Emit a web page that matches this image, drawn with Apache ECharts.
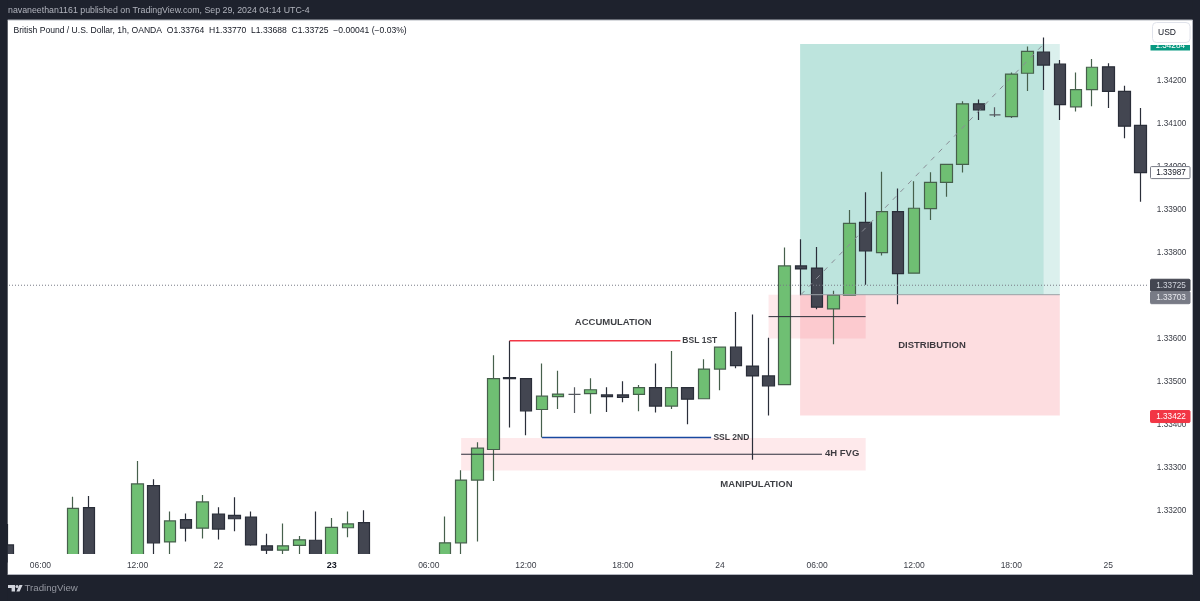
<!DOCTYPE html>
<html>
<head>
<meta charset="utf-8">
<title>GBPUSD 1h</title>
<style>
html, body { margin: 0; padding: 0; background: #1e222d; }
#chart { width: 1200px; height: 601px; }
</style>
<script src="https://cdn.jsdelivr.net/npm/echarts@6/dist/echarts.min.js"></script>
</head>
<body>
<div id="chart"></div>
<script>
/* candles, one entry per hour, null = bar sits wholly below the visible range */
var opens = [
    1.33121, null, null, null, 1.33060, 1.33208, null, null, 1.33080, 1.33259,
    1.33128, 1.33180, 1.33160, 1.33193, 1.33190, 1.33186, 1.33119, 1.33109, 1.33120, 1.33132,
    1.33085, 1.33161, 1.33173, null, null, null, null, 1.33060, 1.33126, 1.33272,
    1.33343, 1.33510, 1.33508, 1.33436, 1.33466, 1.33471, 1.33473, 1.33470, 1.33470, 1.33471,
    1.33487, 1.33444, 1.33487, 1.33461, 1.33530, 1.33581, 1.33537, 1.33514, 1.33494, 1.33770,
    1.33765, 1.33670, 1.33702, 1.33871, 1.33801, 1.33896, 1.33753, 1.33903, 1.33964, 1.34006,
    1.34147, 1.34121, 1.34117, 1.34218, 1.34267, 1.34239, 1.34140, 1.34180, 1.34233, 1.34176,
    1.34097
];
var closes = [
    1.33090, null, null, null, 1.33206, 1.33070, null, null, 1.33263, 1.33126,
    1.33177, 1.33160, 1.33221, 1.33158, 1.33182, 1.33121, 1.33109, 1.33119, 1.33133, 1.33090,
    1.33162, 1.33170, 1.33085, null, null, null, null, 1.33126, 1.33272, 1.33346,
    1.33508, 1.33508, 1.33433, 1.33467, 1.33472, 1.33471, 1.33482, 1.33466, 1.33464, 1.33487,
    1.33444, 1.33487, 1.33460, 1.33530, 1.33581, 1.33538, 1.33514, 1.33491, 1.33770, 1.33763,
    1.33674, 1.33702, 1.33869, 1.33805, 1.33896, 1.33752, 1.33904, 1.33964, 1.34006, 1.34147,
    1.34133, 1.34121, 1.34216, 1.34269, 1.34237, 1.34145, 1.34180, 1.34232, 1.34176, 1.34095,
    1.33987
];
var highs = [
    1.33170, null, null, null, 1.33233, 1.33235, null, null, 1.33316, 1.33274,
    1.33199, 1.33194, 1.33237, 1.33209, 1.33232, 1.33199, 1.33147, 1.33171, 1.33142, 1.33199,
    1.33184, 1.33199, 1.33202, null, null, null, null, 1.33187, 1.33295, 1.33360,
    1.33562, 1.33596, 1.33508, 1.33543, 1.33526, 1.33488, 1.33509, 1.33488, 1.33502, 1.33493,
    1.33543, 1.33572, 1.33487, 1.33553, 1.33581, 1.33663, 1.33657, 1.33603, 1.33813, 1.33832,
    1.33814, 1.33712, 1.33900, 1.33941, 1.33989, 1.33950, 1.33967, 1.33988, 1.34006, 1.34153,
    1.34157, 1.34139, 1.34220, 1.34280, 1.34301, 1.34249, 1.34220, 1.34251, 1.34241, 1.34189,
    1.34137
];
var lows = [
    1.33080, null, null, null, 1.33050, 1.33060, null, null, 1.33070, 1.33090,
    1.33095, 1.33129, 1.33136, 1.33134, 1.33153, 1.33119, 1.33095, 1.33095, 1.33095, 1.33080,
    1.33075, 1.33139, 1.33075, null, null, null, null, 1.33050, 1.33090, 1.33129,
    1.33270, 1.33394, 1.33376, 1.33371, 1.33437, 1.33428, 1.33426, 1.33430, 1.33453, 1.33432,
    1.33429, 1.33437, 1.33402, 1.33461, 1.33481, 1.33532, 1.33319, 1.33422, 1.33494, 1.33702,
    1.33669, 1.33588, 1.33702, 1.33726, 1.33794, 1.33681, 1.33753, 1.33877, 1.33931, 1.33987,
    1.34109, 1.34116, 1.34114, 1.34177, 1.34179, 1.34109, 1.34129, 1.34141, 1.34137, 1.34067,
    1.33919
];

var timeTickBars = [2, 8, 13, 20, 26, 32, 38, 44, 50, 56, 62, 68];
var timeTickLabels = ['06:00', '12:00', '22', '23', '06:00', '12:00', '18:00', '24', '06:00', '12:00', '18:00', '25'];

/* drawing tools: [bar from, bar to, price high, price low] */
var targetBox = [48.95, 64, 1.34286, 1.33703];
var targetBoxTail = [64, 65, 1.34286, 1.33703];
var stopBox = [48.95, 65, 1.33703, 1.33422];
var fvgZone = [28, 53, 1.33370, 1.33294];
var orderBlock = [47, 53, 1.33703, 1.33601];

/* lines: [bar from, price from, bar to, price to] */
var bslLine = [31, 1.33596, 41.55, 1.33596];
var sslLine = [33, 1.33371, 43.45, 1.33371];
var fvgLine = [28, 1.33332, 50.3, 1.33332];
var blockLine = [47, 1.33652, 53, 1.33652];
var entryLine = [49, 1.33703, 65, 1.33703];
var tradeLine = [49, 1.33703, 64, 1.34286];
var lastPriceLine = [-0.5, 1.33725, 70.5, 1.33725];

var noteTexts = ['ACCUMULATION', 'BSL 1ST', 'SSL 2ND', '4H FVG', 'MANIPULATION', 'DISTRIBUTION'];
var noteBars = [37.4, 42.75, 44.7, 51.55, 46.25, 57.1];
var notePrices = [1.33639, 1.33596, 1.33370, 1.33333, 1.33263, 1.33586];

var tagPrices = [1.33987, 1.33725, 1.33703, 1.33422];
var tagTexts = ['1.33987', '1.33725', '1.33703', '1.33422'];

var headerText = 'navaneethan1161 published on TradingView.com, Sep 29, 2024 04:14 UTC-4';
var titleText = 'British Pound / U.S. Dollar, 1h, OANDA  O1.33764  H1.33770  L1.33688  C1.33725  \u22120.00041 (\u22120.03%)';

var fontName = '"Liberation Sans", Arial, sans-serif';
var frameColor = '#1e222d';
var barCount = opens.length;
var i;

var categories = [];
var candleData = [];
for (i = 0; i < barCount; i++) {
    categories.push('');
    if (opens[i] === null) {
        candleData.push(['-', '-', '-', '-']);
    } else {
        candleData.push([opens[i], closes[i], lows[i], highs[i]]);
    }
}
for (i = 0; i < timeTickBars.length; i++) {
    categories[timeTickBars[i]] = timeTickLabels[i];
}

function zone(box, color) {
    return [
        { coord: [box[0], box[2]], itemStyle: { color: color, borderWidth: 0 } },
        { coord: [box[1], box[3]] }
    ];
}

function segment(line, color, width, type) {
    return {
        type: 'line',
        xAxisIndex: 1,
        data: [[line[0], line[1]], [line[2], line[3]]],
        showSymbol: false,
        silent: true,
        clip: true,
        z: 5,
        animation: false,
        lineStyle: { color: color, width: width, type: type }
    };
}

var noteData = [];
for (i = 0; i < noteTexts.length; i++) {
    noteData.push({
        value: [noteBars[i], notePrices[i]],
        name: noteTexts[i],
        /* the two level tags are set a bit smaller than the section titles */
        label: { fontSize: (noteTexts[i] === 'BSL 1ST' || noteTexts[i] === 'SSL 2ND') ? 8.5 : 9.5 }
    });
}

var chart = echarts.init(document.getElementById('chart'));

var option = {
    animation: false,
    backgroundColor: '#ffffff',
    textStyle: { fontFamily: fontName },
    grid: { left: -1.1, top: 21, width: 1149.9, height: 533, containLabel: false },
    xAxis: [{
        type: 'category',
        data: categories,
        boundaryGap: true,
        z: 10,
        axisLine: { show: false },
        axisTick: { show: false },
        splitLine: { show: false },
        axisLabel: {
            interval: 0,
            margin: 7,
            fontSize: 8.5,
            color: '#3a3d46',
            hideOverlap: false,
            formatter: function (value) {
                return value === '23' ? '{bold|23}' : value;
            },
            rich: { bold: { fontWeight: 'bold', fontSize: 9, color: '#131722' } }
        }
    }, {
        type: 'value',
        show: false,
        min: -0.5,
        max: 70.5,
        splitLine: { show: false }
    }],
    yAxis: {
        type: 'value',
        position: 'right',
        min: 1.331,
        max: 1.343395,
        interval: 0.001,
        axisLine: { show: false },
        axisTick: { show: false },
        splitLine: { show: false },
        axisLabel: {
            margin: 8,
            fontSize: 8.2,
            color: '#3a3d46',
            showMinLabel: false,
            showMaxLabel: false,
            formatter: function (value) { return value.toFixed(5); }
        }
    },
    series: [{
        type: 'line',
        xAxisIndex: 1,
        data: [],
        silent: true,
        z: 1,
        markArea: {
            silent: true,
            data: [
                zone(targetBox, 'rgba(8,153,129,0.267)'),
                zone(targetBoxTail, 'rgba(8,153,129,0.146)'),
                zone(stopBox, 'rgba(242,54,69,0.17)'),
                zone(fvgZone, 'rgba(242,54,69,0.11)'),
                zone(orderBlock, 'rgba(242,54,69,0.11)')
            ]
        }
    }, {
        type: 'candlestick',
        data: candleData,
        barWidth: 12,
        z: 2,
        itemStyle: {
            color: '#6fbf73',
            color0: '#434651',
            borderColor: '#46604c',
            borderColor0: '#2a2e39',
            borderColorDoji: '#55585f',
            borderWidth: 1.2
        }
    },
    segment(lastPriceLine, '#787b86', 1, [1, 2]),
    segment(tradeLine, '#8a8d96', 1, [5, 6]),
    segment(entryLine, '#9aa0a6', 1, 'solid'),
    segment(bslLine, '#f23645', 1.5, 'solid'),
    segment(sslLine, '#1848a0', 1.5, 'solid'),
    segment(fvgLine, '#2a2e39', 1, 'solid'),
    segment(blockLine, '#2a2e39', 1, 'solid'),
    {
        type: 'scatter',
        xAxisIndex: 1,
        data: noteData,
        symbolSize: 1,
        silent: true,
        z: 6,
        itemStyle: { color: 'transparent' },
        label: {
            show: true,
            position: 'inside',
            formatter: '{b}',
            fontFamily: fontName,
            fontSize: 9.5,
            fontWeight: 'bold',
            color: '#0b0e14'
        }
    }]
};
chart.setOption(option);

/* window frame, header, footer and price tags go on top of the plot */
function rect(x, y, w, h, fill, z, r) {
    return {
        type: 'rect',
        silent: true,
        z: z,
        shape: { x: x, y: y, width: w, height: h, r: r || 0 },
        style: { fill: fill }
    };
}

function label(x, y, text, size, color, z, align) {
    return {
        type: 'text',
        silent: true,
        z: z,
        x: x,
        y: y,
        style: {
            text: text,
            fontFamily: fontName,
            fontSize: size,
            fill: color,
            align: align || 'left',
            verticalAlign: 'middle'
        }
    };
}

var elements = [
    /* candles run past the bottom of the range, the time scale strip hides them */
    rect(7.7, 554, 1184.8, 20.5, '#ffffff', 3),
    rect(0, 0, 1200, 20, frameColor, 50),
    rect(0, 574.5, 1200, 26.5, frameColor, 50),
    rect(0, 0, 7.7, 601, frameColor, 50),
    rect(1192.5, 0, 7.5, 601, frameColor, 50),
    rect(7.7, 19.5, 1184.8, 1, '#b2b5be', 51),
    rect(7.7, 574, 1184.8, 1, '#b2b5be', 51),
    rect(1192, 20, 1, 555, '#b2b5be', 51),
    label(8, 11, headerText, 8.8, '#b2b5be', 52),
    label(13.5, 30.5, titleText, 8.57, '#131722', 52),
    label(24.5, 588, 'TradingView', 9.7, '#9598a1', 52)
];

/* logo */
elements.push({
    type: 'polygon', silent: true, z: 52,
    shape: { points: [[8, 585], [15, 585], [15, 591.6], [11.6, 591.6], [11.6, 588], [8, 588]] },
    style: { fill: '#d1d4dc' }
});
elements.push({
    type: 'circle', silent: true, z: 52,
    shape: { cx: 17, cy: 586.5, r: 1.5 },
    style: { fill: '#d1d4dc' }
});
elements.push({
    type: 'polygon', silent: true, z: 52,
    shape: { points: [[19.4, 585], [22.6, 585], [19.6, 591.6], [16.4, 591.6]] },
    style: { fill: '#d1d4dc' }
});

/* green target tag is half hidden by the USD button */
elements.push(rect(1150.5, 38, 39.5, 16, '#089981', 54));
elements.push(label(1170.2, 46, '1.34284', 8.2, '#ffffff', 55, 'center'));
elements.push(rect(1150, 36, 41, 9, '#ffffff', 56));
elements.push(rect(1150, 50.5, 41, 5, '#ffffff', 56));
elements.push({
    type: 'rect', silent: true, z: 57,
    shape: { x: 1152.5, y: 22.5, width: 37.5, height: 20, r: 4 },
    style: { fill: '#ffffff', stroke: '#e0e3eb', lineWidth: 1 }
});
elements.push(label(1167, 32.5, 'USD', 8.5, '#131722', 58, 'center'));

/* price tags placed from the y scale */
var tagFills = ['#ffffff', '#434651', '#787b86', '#f23645'];
var tagInk = ['#131722', '#d1d4dc', '#e8e9ee', '#ffffff'];
var tagNudge = [0, 0, 3, 1];
for (i = 0; i < tagPrices.length; i++) {
    var tagY = chart.convertToPixel({ yAxisIndex: 0 }, tagPrices[i]) + tagNudge[i];
    elements.push({
        type: 'rect', silent: true, z: 54,
        shape: { x: 1150.5, y: tagY - 6, width: 39.5, height: 12, r: 1 },
        style: { fill: tagFills[i], stroke: i === 0 ? '#787b86' : tagFills[i], lineWidth: 1 }
    });
    elements.push(label(1171, tagY, tagTexts[i], 8.2, tagInk[i], 55, 'center'));
}

chart.setOption({ graphic: { elements: elements } });
</script>
</body>
</html>
